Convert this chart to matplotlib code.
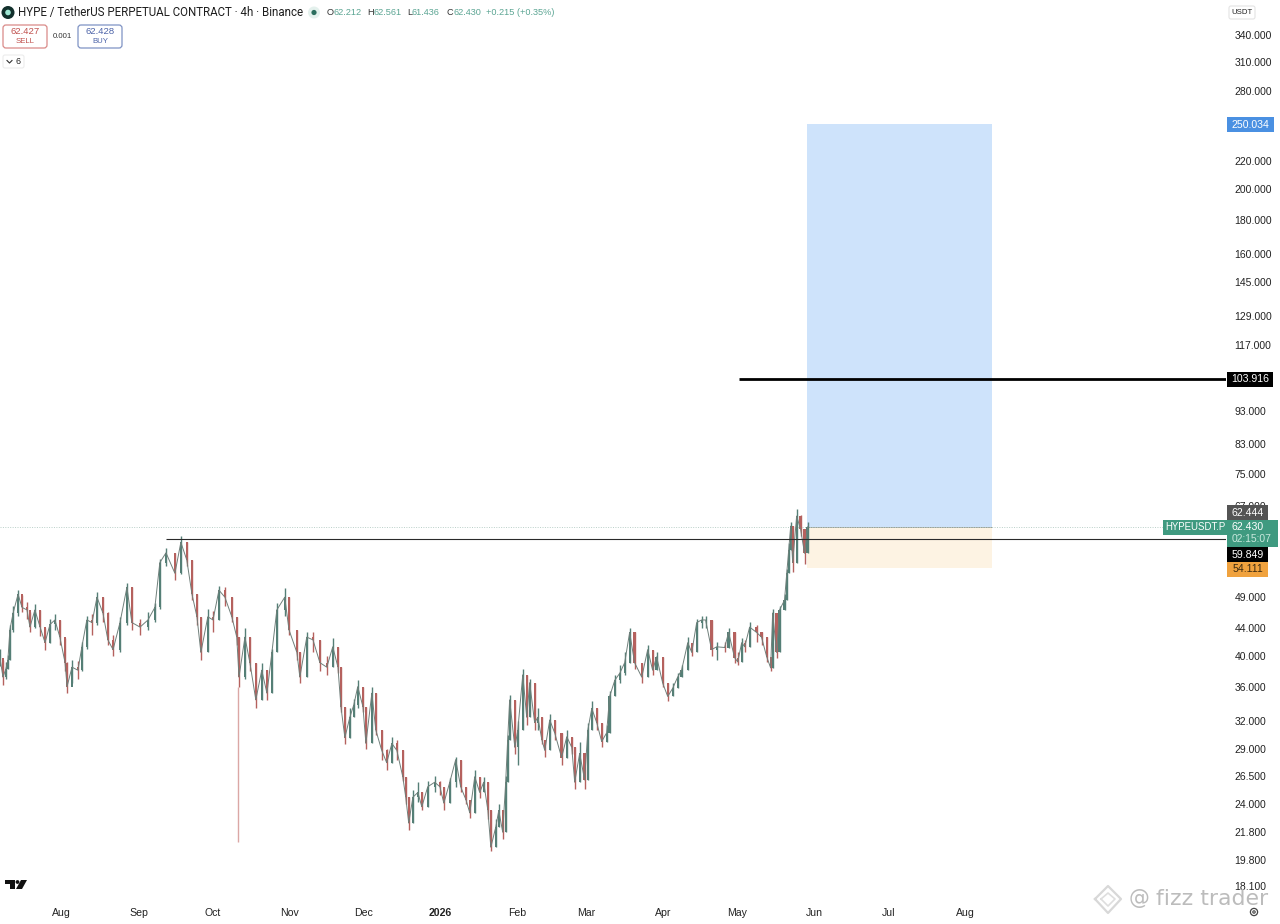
import matplotlib
matplotlib.use("Agg")
import matplotlib.pyplot as plt
import matplotlib.dates as mdates
from matplotlib.patches import Rectangle, FancyBboxPatch, Polygon, Circle
from datetime import date

plt.rcParams["font.family"] = ["Liberation Sans", "DejaVu Sans"]

# days since the first visible candle
candle_day = [0, 1.2, 2.4, 3.2, 4, 5.3, 7.3, 8.9, 10.9, 12.1, 14.1, 16.2, 18.2, 20.2, 22.2, 24.2, 26.3, 27.1, 29.1, 31.5,
              33.1, 35.1, 37.2, 39.2, 41.6, 43.6, 45.7, 48.5, 51.3, 53.3, 56.6, 59.8, 62.6, 64.6, 67.1, 70.7, 73.1, 75.5, 77.6, 79.6,
              81.2, 84, 86.1, 88.5, 90.9, 93.7, 95.7, 96.6, 99, 101, 103.4, 105.8, 107.9, 109.9, 111.9, 115.1, 116.8, 120, 121.2, 124,
              126.5, 129.3, 132.1, 134.5, 136.6, 137.8, 139.4, 141.4, 143, 144.6, 146.7, 147.9, 150.3, 151.9, 154.3, 156.3, 158.4, 160.4, 162.8, 164,
              165.2, 166.9, 168.9, 170.5, 172.9, 175.7, 177.8, 179.4, 181.8, 184.2, 186.2, 188.3, 189.9, 191.9, 193.9, 195.5, 197.2, 198.4, 200.4, 201.6,
              203.2, 204.4, 205.2, 206, 208.1, 209.3, 211.3, 212.9, 214.1, 216.1, 217.4, 219, 220.2, 222.2, 224.2, 227, 229.1, 231.1, 232.3, 234.3,
              236.3, 237.6, 239.2, 241.2, 243.2, 245.2, 246.4, 248.5, 250.5, 252.5, 254.5, 256.5, 259.4, 261.8, 263.8, 265.4, 267.9, 269.9, 271.9, 273.9,
              275.5, 278, 279.6, 281.6, 283.6, 285.2, 287.6, 289.7, 292.9, 294.5, 296.9, 298.2, 299.8, 301, 303, 305.8, 307.8, 309.9, 311.5, 312.3,
              313.9, 315.1, 317.1, 318, 318.8, 319.6, 320.4, 322, 323.6, 325.2, 326.4]
closes = [39.7, 37.2, 38.3, 39.5, 43.8, 46.4, 49.5, 47.3, 46.9, 44.2, 46.9, 44.2, 41.9, 44.6, 45.3, 42.7, 39.1, 36.0, 38.5, 38.1,
          41.3, 45.3, 44.9, 49.0, 46.4, 42.3, 40.9, 44.9, 50.7, 44.9, 44.2, 45.3, 47.3, 55.2, 57.1, 53.2, 59.2, 55.7, 49.5, 45.8,
          40.5, 45.8, 45.3, 50.2, 49.0, 45.8, 42.7, 37.2, 42.7, 39.1, 34.4, 38.1, 35.2, 40.5, 46.9, 49.0, 43.8, 40.5, 37.2, 42.7,
          42.3, 39.1, 38.5, 41.3, 38.5, 33.6, 30.2, 32.4, 33.8, 36.0, 33.6, 29.6, 35.2, 31.0, 28.9, 27.7, 29.6, 28.9, 26.4, 24.6,
          22.5, 24.6, 25.0, 23.8, 25.5, 25.9, 25.5, 24.1, 25.9, 28.0, 25.5, 24.4, 23.3, 26.4, 25.0, 25.9, 23.5, 20.7, 22.2, 23.5,
          21.8, 25.9, 30.0, 34.4, 29.2, 31.0, 37.5, 32.4, 36.5, 31.8, 32.4, 30.0, 28.9, 32.1, 30.7, 28.2, 30.3, 29.2, 25.9, 28.6,
          26.1, 31.0, 33.4, 31.8, 29.8, 30.7, 34.8, 36.8, 37.7, 39.1, 43.4, 39.1, 37.2, 40.9, 38.1, 39.9, 36.4, 34.8, 35.8, 37.2,
          38.1, 41.9, 40.5, 44.9, 45.3, 45.3, 40.9, 41.3, 41.2, 43.4, 39.8, 39.2, 41.9, 41.3, 44.2, 43.4, 42.7, 39.9, 38.4, 46.4,
          40.5, 46.9, 48.5, 53.2, 57.7, 62.6, 55.2, 64.8, 61.9, 57.0, 62.43]
highs = [41.0, 39.5, 39.2, 40.2, 44.5, 47.5, 50.2, 49.3, 48.2, 46.5, 47.8, 46.9, 44.0, 45.5, 46.2, 45.3, 42.5, 39.2, 39.5, 39.3,
         42.0, 46.0, 46.3, 49.8, 49.0, 46.5, 43.0, 45.8, 51.5, 50.7, 45.5, 46.5, 48.0, 55.8, 58.0, 57.0, 60.5, 59.2, 55.7, 49.5,
         45.8, 47.0, 46.8, 51.0, 50.8, 49.0, 45.8, 42.7, 44.0, 42.7, 39.0, 39.0, 38.1, 41.0, 48.0, 50.5, 49.0, 43.8, 40.5, 43.5,
         43.5, 42.3, 40.0, 42.5, 41.3, 38.5, 33.6, 33.5, 34.5, 36.8, 36.0, 33.6, 36.0, 35.2, 31.0, 29.0, 30.3, 30.0, 28.9, 26.4,
         24.6, 25.2, 25.9, 25.0, 26.0, 26.5, 26.0, 25.5, 26.3, 28.3, 28.0, 25.5, 24.4, 27.0, 26.4, 26.4, 25.9, 23.5, 22.8, 24.0,
         23.5, 26.5, 30.5, 35.0, 34.4, 32.0, 38.3, 37.5, 37.0, 36.5, 33.5, 32.4, 30.0, 32.8, 32.1, 30.7, 31.0, 30.3, 29.2, 29.8,
         28.6, 31.8, 34.3, 33.4, 31.8, 31.5, 35.5, 37.5, 38.8, 40.5, 44.0, 43.4, 39.1, 41.5, 40.9, 40.5, 39.9, 36.4, 36.4, 37.8,
         38.8, 42.7, 41.9, 45.5, 45.9, 46.0, 45.3, 42.0, 42.0, 44.0, 43.4, 40.5, 42.5, 42.3, 45.0, 44.5, 43.5, 42.7, 39.9, 47.0,
         46.4, 47.5, 49.5, 54.0, 59.0, 63.5, 62.6, 66.3, 65.0, 61.9, 63.5]
lows = [38.6, 36.2, 37.0, 38.2, 39.5, 43.5, 46.0, 46.5, 45.5, 43.5, 44.0, 42.9, 40.9, 41.8, 43.8, 41.6, 38.0, 35.2, 36.5, 37.0,
        38.0, 41.0, 43.0, 44.5, 45.0, 41.5, 40.0, 40.5, 44.5, 43.8, 43.0, 43.8, 45.0, 47.0, 54.5, 52.0, 53.0, 54.5, 48.5, 44.5,
        39.5, 40.5, 43.5, 45.3, 47.5, 45.0, 41.5, 36.0, 37.0, 38.0, 33.5, 34.4, 34.4, 35.2, 40.5, 46.0, 43.0, 39.5, 36.5, 37.2,
        40.5, 38.0, 37.5, 38.5, 37.8, 33.0, 29.5, 30.2, 32.4, 33.5, 33.0, 29.0, 29.6, 30.5, 28.0, 27.0, 27.7, 28.0, 26.0, 24.0,
        22.0, 22.5, 24.2, 23.5, 23.8, 25.0, 24.8, 23.5, 24.1, 25.5, 25.0, 24.0, 22.9, 23.3, 24.5, 25.0, 22.8, 20.4, 20.7, 22.2,
        21.3, 21.8, 25.9, 30.0, 28.5, 27.5, 31.0, 31.5, 32.4, 31.0, 31.0, 29.5, 28.3, 28.9, 30.0, 27.5, 28.2, 28.5, 25.3, 25.9,
        25.3, 26.1, 31.0, 31.0, 29.2, 29.8, 30.7, 34.8, 36.5, 37.5, 39.1, 38.2, 36.5, 37.2, 37.5, 38.1, 36.0, 34.3, 34.8, 35.8,
        37.2, 38.1, 40.0, 40.5, 44.0, 44.0, 40.0, 39.5, 40.5, 41.2, 39.0, 38.8, 39.2, 40.5, 41.3, 42.0, 41.5, 39.2, 38.0, 38.4,
        39.8, 40.5, 46.9, 48.5, 53.2, 57.7, 53.5, 55.2, 60.5, 55.0, 57.0]

# the long October wick
spike_day = 96.3
spike_low = 21.1
spike_top = 36.0

price_ticks = [340, 310, 280, 220, 200, 180, 160, 145, 129, 117, 93, 83, 75, 67, 49, 44, 40, 36, 32, 29, 26.5, 24, 21.8, 19.8, 18.1]
month_labels = ["Aug", "Sep", "Oct", "Nov", "Dec", "2026", "Feb", "Mar", "Apr", "May", "Jun", "Jul", "Aug"]
month_dates = [date(2025, 8, 1), date(2025, 9, 1), date(2025, 10, 1), date(2025, 11, 1), date(2025, 12, 1), date(2026, 1, 1),
               date(2026, 2, 1), date(2026, 3, 1), date(2026, 4, 1), date(2026, 5, 1), date(2026, 6, 1), date(2026, 7, 1), date(2026, 8, 1)]

target_price = 250.034
entry_price = 62.444
stop_price = 54.111
resistance_price = 103.916
breakout_price = 59.849
last_price = 62.43

start = date(2025, 7, 7)
UP = "#557f76"
DOWN = "#b5615e"


def day_num(d):
    return mdates.date2num(start) + d


fig = plt.figure(figsize=(12.8, 9.24), dpi=100)
ax = fig.add_axes([0, 29 / 924, 1226 / 1280, 895 / 924])
ax.set_yscale("log")
ax.set_ylim(17.56, 383.6)
ax.set_xlim(day_num(0), day_num(1226 * 0.4042))

# position tool
x0, x1 = day_num(326.2), day_num(401)
ax.add_patch(Rectangle((x0, entry_price), x1 - x0, target_price - entry_price, fc="#cee3fb", ec="none", zorder=1))
ax.add_patch(Rectangle((x0, stop_price), x1 - x0, entry_price - stop_price, fc="#fdf3e3", ec="none", zorder=1))
ax.hlines(entry_price, x0, x1, color="#8a8f8a", lw=0.6, zorder=2)

# candles, each opens on the previous close
nums = [day_num(d) for d in candle_day]
opens = [closes[0]] + closes[:-1]
cols = [UP if c >= o else DOWN for o, c in zip(opens, closes)]
ax.vlines(nums, lows, highs, colors=cols, lw=1.0, zorder=3)
ax.bar(nums, [abs(c - o) for o, c in zip(opens, closes)], bottom=[min(o, c) for o, c in zip(opens, closes)],
       width=0.9, color=cols, zorder=3)
ax.plot(nums, closes, color="#6f7f7a", lw=0.7, zorder=4, solid_joinstyle="round")
ax.vlines(day_num(spike_day), spike_low, spike_top, color="#dba7a5", lw=1.0, zorder=2)

ax.axhline(last_price, color="#b9cfc8", lw=0.7, ls=(0, (1, 1.5)), zorder=2)
ax.hlines(resistance_price, day_num(298.6), ax.get_xlim()[1], color="black", lw=2, zorder=5)
ax.hlines(breakout_price, day_num(67), ax.get_xlim()[1], color="#2a2a2a", lw=0.8, zorder=5)

for s in ax.spines.values():
    s.set_visible(False)
ax.yaxis.tick_right()
ax.set_yticks(price_ticks)
ax.set_yticklabels(["%.3f" % p for p in price_ticks])
ax.minorticks_off()
ax.tick_params(axis="y", length=0, pad=6, labelsize=7.5, colors="#222222")
ax.set_xticks([mdates.date2num(d) for d in month_dates])
ax.set_xticklabels(month_labels)
ax.tick_params(axis="x", length=0, pad=9, labelsize=7.6, colors="#222222")
ax.get_xticklabels()[5].set_fontweight("bold")

# overlay in picture pixels for the chart furniture
ov = fig.add_axes([0, 0, 1, 1], facecolor="none")
ov.set_xlim(0, 1280)
ov.set_ylim(924, 0)
ov.axis("off")


def flag(x, y, w, h, text, bg, fg="white", size=7.6):
    ov.add_patch(Rectangle((x, y), w, h, fc=bg, ec="none", zorder=7))
    ov.text(x + w / 2, y + h / 2, text, ha="center", va="center", fontsize=size, color=fg, zorder=8)


TEAL = "#3f9a80"
flag(1227, 117, 47, 15, "250.034", "#4a90e2")
flag(1227, 372, 46, 15, "103.916", "#000000")
flag(1227, 505, 41, 15, "62.444", "#545454")
flag(1227, 547, 41, 15, "59.849", "#000000")
flag(1227, 562, 41, 15, "54.111", "#f0a23e", "#3b2a10")
ov.add_patch(Rectangle((1227, 520), 51, 27, fc=TEAL, ec="none", zorder=7))
ov.text(1248, 527.5, "62.430", ha="center", va="center", fontsize=7.6, color="white", zorder=8)
ov.text(1252, 539, "02:15:07", ha="center", va="center", fontsize=7.4, color="#c9e8dd", zorder=8)
flag(1163, 520, 64, 15, "HYPEUSDT.P", TEAL, size=6.9)

ov.add_patch(FancyBboxPatch((1229, 6), 26, 13, boxstyle="round,pad=0,rounding_size=2", fc="white", ec="#e4e4e4", lw=0.8))
ov.text(1242, 12.5, "USDT", ha="center", va="center", fontsize=5.6, color="#222222")

# header
ov.add_patch(Circle((8, 12.5), 6.5, fc="#12302c", ec="none"))
ov.add_patch(Circle((8, 12.5), 2.8, fc="#9fe8d4", ec="none"))
ov.text(18, 12.5, "HYPE / TetherUS PERPETUAL CONTRACT · 4h · Binance", ha="left", va="center", fontsize=8.3, color="#1e1e1e",
        family=["Roboto", "DejaVu Sans"])
ov.add_patch(Circle((314, 12.5), 6, fc="#e4f1ed", ec="none"))
ov.add_patch(Circle((314, 12.5), 2.6, fc="#2c6e5e", ec="none"))
ohlc = [(327, "O"), (334, "62.212"), (367.5, "H"), (374, "62.561"), (407, "L"), (411.5, "61.436"), (446.5, "C"), (453, "62.430"), (486, "+0.215 (+0.35%)")]
for x, t in ohlc:
    dark = t in ("O", "H", "L", "C")
    ov.text(x, 12.5, t, ha="left", va="center", fontsize=6.6, color="#333333" if dark else "#5ba593")

ov.add_patch(FancyBboxPatch((3, 25), 44, 23, boxstyle="round,pad=0,rounding_size=3", fc="white", ec="#d98a88", lw=0.9))
ov.text(25, 31, "62.427", ha="center", va="center", fontsize=6.8, color="#c0504d")
ov.text(25, 41.5, "SELL", ha="center", va="center", fontsize=5.6, color="#c0504d")
ov.text(62.5, 36, "0.001", ha="center", va="center", fontsize=5.6, color="#333333")
ov.add_patch(FancyBboxPatch((78, 25), 44, 23, boxstyle="round,pad=0,rounding_size=3", fc="white", ec="#7f93c4", lw=0.9))
ov.text(100, 31, "62.428", ha="center", va="center", fontsize=6.8, color="#4c63a8")
ov.text(100, 41.5, "BUY", ha="center", va="center", fontsize=5.6, color="#4c63a8")
ov.add_patch(FancyBboxPatch((3, 55), 21, 13, boxstyle="round,pad=0,rounding_size=2", fc="white", ec="#ececec", lw=0.8))
ov.plot([7, 9.5, 12], [60.5, 63, 60.5], color="#333333", lw=0.8)
ov.text(18.5, 62, "6", ha="center", va="center", fontsize=6.4, color="#222222")

# TradingView mark
ov.add_patch(Polygon([(5, 880), (15, 880), (15, 889), (10, 889), (10, 884), (5, 884)], fc="#111111", ec="none"))
ov.add_patch(Circle((17.5, 882), 1.9, fc="#111111", ec="none"))
ov.add_patch(Polygon([(21, 880), (27, 880), (22, 889), (16, 889)], fc="#111111", ec="none"))

# settings gear
ov.add_patch(Circle((1254, 912), 3.6, fc="none", ec="#444444", lw=0.9))
ov.add_patch(Circle((1254, 912), 1.2, fc="none", ec="#444444", lw=0.8))

# watermark
ov.plot([1095, 1108, 1121, 1108, 1095], [899, 886, 899, 913, 899], color="#d8d8d8", lw=1.6, zorder=9)
ov.plot([1101, 1108, 1115, 1108, 1101], [899, 893, 899, 906, 899], color="#dedede", lw=1.2, zorder=9)
ov.text(1129, 898.5, "@", ha="left", va="center", fontsize=15, color="#bcbcbc", zorder=9, family="DejaVu Sans")
ov.text(1156, 899, "fizz trader", ha="left", va="center", fontsize=15.8, color="#bcbcbc", zorder=9, family="DejaVu Sans")

fig.savefig("out.png", dpi=100)
